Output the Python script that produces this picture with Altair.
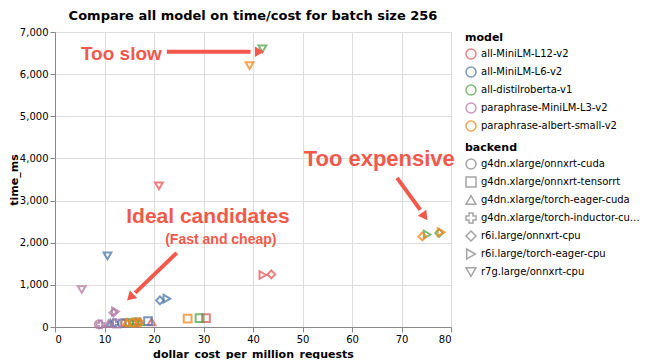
import altair as alt
import pandas as pd

models = ["all-MiniLM-L12-v2", "all-MiniLM-L6-v2", "all-distilroberta-v1",
          "paraphrase-MiniLM-L3-v2", "paraphrase-albert-small-v2"]
backends = ["g4dn.xlarge/onnxrt-cuda", "g4dn.xlarge/onnxrt-tensorrt",
            "g4dn.xlarge/torch-eager-cuda", "g4dn.xlarge/torch-inductor-cuda",
            "r6i.large/onnxrt-cpu", "r6i.large/torch-eager-cpu", "r7g.large/onnxrt-cpu"]

# cost (x) and time (y) per model, in backend order
cost = {
    "all-MiniLM-L12-v2":         [14.2, 30.5, 19.5, 16.5, 43.7, 42.0, 21.0],
    "all-MiniLM-L6-v2":          [13.5, 18.8, 11.2, 12.0, 21.2, 22.6, 10.6],
    "all-distilroberta-v1":      [15.0, 29.2, 17.2, 16.0, 77.6, 75.2, 41.9],
    "paraphrase-MiniLM-L3-v2":   [8.8, 12.5, 10.8, 9.2, 11.8, 12.2, 5.4],
    "paraphrase-albert-small-v2": [15.8, 26.8, 14.5, 17.0, 74.2, 78.0, 39.3],
}
time_ms = {
    "all-MiniLM-L12-v2":         [100, 210, 120, 110, 1248, 1234, 3350],
    "all-MiniLM-L6-v2":          [90, 140, 90, 90, 632, 672, 1686],
    "all-distilroberta-v1":      [100, 210, 120, 110, 2230, 2195, 6600],
    "paraphrase-MiniLM-L3-v2":   [60, 80, 80, 60, 340, 370, 890],
    "paraphrase-albert-small-v2": [100, 200, 110, 110, 2150, 2250, 6200],
}
model_colors = ["#e45756", "#4c78a8", "#54a24b", "#b279a2", "#f58518"]

rows = []
for m in models:
    for b, c, t in zip(backends, cost[m], time_ms[m]):
        rows.append({"model": m, "backend": b,
                     "dollar_cost_per_million_requests": c, "time_ms": t})
df = pd.DataFrame(rows)

# annotations (data coordinates)
ann_text = ["Too slow", "Too expensive", "Ideal candidates", "(Fast and cheap)"]
ann_x = [13.4, 65.5, 30.9, 33.5]
ann_y = [6480, 3980, 2600, 2060]
ann_size = [19, 22, 21, 14]
ann_df = pd.DataFrame({"t": ann_text, "x": ann_x, "y": ann_y, "s": ann_size})

arrow_x0 = [22.6, 69.1, 24.6]
arrow_y0 = [6534, 3540, 1760]
arrow_x1 = [39.5, 73.8, 16.2]
arrow_y1 = [6534, 2780, 810]
arrow_tip_x = [41.3, 74.7, 15.2]
arrow_tip_y = [6534, 2623, 703]
arrow_angle = [90, 144, 226]
arr_df = pd.DataFrame({"x0": arrow_x0, "y0": arrow_y0, "x1": arrow_x1, "y1": arrow_y1,
                       "tx": arrow_tip_x, "ty": arrow_tip_y, "a": arrow_angle})

RED = "#f2594b"

xq = alt.X("dollar_cost_per_million_requests:Q", title="dollar_cost_per_million_requests")
yq = alt.Y("time_ms:Q", title="time_ms", axis=alt.Axis(titlePadding=0))

points = alt.Chart(df).mark_point(size=60, strokeWidth=2, opacity=0.75).encode(
    x=xq, y=yq,
    color=alt.Color("model:N", scale=alt.Scale(domain=models, range=model_colors),
                    title="model"),
    shape=alt.Shape("backend:N", scale=alt.Scale(domain=backends), title="backend"),
)

texts = alt.Chart(ann_df).mark_text(color=RED, fontWeight="bold",
                                    font="Liberation Sans").encode(
    x=alt.X("x:Q"), y=alt.Y("y:Q"), text="t:N",
    size=alt.Size("s:Q", scale=None, legend=None),
)

shafts = alt.Chart(arr_df).mark_rule(color=RED, strokeWidth=4).encode(
    x="x0:Q", y="y0:Q", x2="x1:Q", y2="y1:Q")

heads = alt.Chart(arr_df).mark_point(shape="triangle-up", filled=True, color=RED,
                                     size=110, opacity=1).encode(
    x="tx:Q", y="ty:Q", angle=alt.Angle("a:Q", scale=None))

chart = alt.layer(points, shafts, heads, texts).properties(
    width=396, height=295,
    padding={"left": 0, "top": 2, "right": 0, "bottom": 0},
    title=alt.TitleParams("Compare all model on time/cost for batch size 256", fontSize=13),
).resolve_scale(size="independent").configure(
    font="DejaVu Sans"
).configure_legend(offset=14)

chart.save("out.html", embed_options={"renderer": "svg", "actions": False})
